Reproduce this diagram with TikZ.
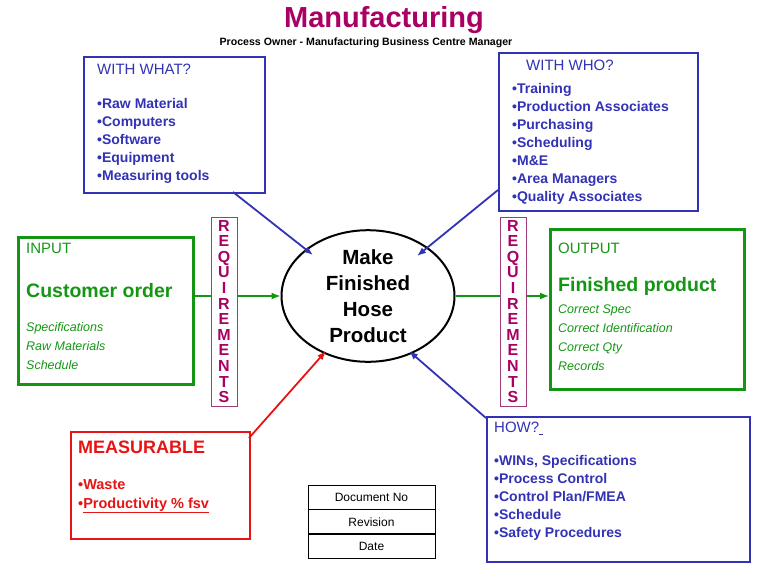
\documentclass[tikz,border=0pt]{standalone}
\usepackage{fontspec}
\setmainfont{Liberation Sans}
\usetikzlibrary{arrows.meta,positioning,shapes.geometric}
\definecolor{ttl}{RGB}{170,0,100}
\definecolor{blu}{RGB}{50,50,180}
\definecolor{grn}{RGB}{20,150,20}
\definecolor{rd}{RGB}{230,20,20}
\definecolor{req}{RGB}{160,60,120}
\tikzset{
  box/.style={draw,line width=2pt,inner sep=0pt,anchor=north west},
  lst/.style={anchor=north west,align=left,inner sep=0pt,font=\bfseries\fontsize{14}{18}\selectfont},
  hdr/.style={anchor=north west,inner sep=0pt,font=\fontsize{15}{17}\selectfont},
  reqbox/.style={draw=req,line width=1pt,fill=white,minimum width=26pt,minimum height=189pt,inner sep=0pt,
    text=ttl,font=\bfseries\fontsize{16}{15.6}\selectfont,align=center},
  cell/.style={draw,line width=0.8pt,minimum width=127pt,minimum height=24pt,inner sep=0pt,font=\fontsize{12}{13}\selectfont},
}
\begin{document}
\begin{tikzpicture}[x=1pt,y=-1pt,>={Latex[length=9pt,width=7pt]}]
\useasboundingbox (0,0) rectangle (768,576);
% title
\node[text=ttl,font=\bfseries\fontsize{29}{32}\selectfont] (title) at (384,20) {Manufacturing};
\node[font=\bfseries\fontsize{10.6}{12}\selectfont] (owner) at (366,43) {Process Owner - Manufacturing Business Centre Manager};
% centre
\node[draw,ellipse,line width=2pt,minimum width=173pt,minimum height=115pt,inner sep=0pt,align=center,
  font=\bfseries\fontsize{20.5}{26}\selectfont] (make) at (368,296) {Make\\Finished\\Hose\\Product};
% boxes
\node[box,draw=blu,minimum width=181pt,minimum height=136pt] (what) at (83,56) {};
\node[hdr,text=blu] at (97,64) {WITH WHAT?};
\node[lst,text=blu] at (97,98) {•Raw Material\\•Computers\\•Software\\•Equipment\\•Measuring tools};
\node[box,draw=blu,minimum width=199pt,minimum height=158pt] (who) at (498,52) {};
\node[hdr,text=blu] at (526,60) {WITH WHO?};
\node[lst,text=blu] at (512,83) {•Training\\•Production Associates\\•Purchasing\\•Scheduling\\•M\&E\\•Area Managers\\•Quality Associates};
\node[box,draw=grn,line width=3pt,minimum width=175pt,minimum height=147pt] (input) at (17,236) {};
\node[hdr,text=grn] at (26,243) {INPUT};
\node[lst,text=grn,font=\bfseries\fontsize{19.5}{22}\selectfont] at (26,283) {Customer order};
\node[lst,text=grn,font=\itshape\fontsize{12.5}{19}\selectfont] at (26,322) {Specifications\\Raw Materials\\Schedule};
\node[box,draw=grn,line width=3pt,minimum width=194pt,minimum height=160pt] (output) at (549,228) {};
\node[hdr,text=grn] at (558,243) {OUTPUT};
\node[lst,text=grn,font=\bfseries\fontsize{19.5}{22}\selectfont] at (558,277) {Finished product};
\node[lst,text=grn,font=\itshape\fontsize{12.5}{19}\selectfont] at (558,305) {Correct Spec\\Correct Identification\\Correct Qty\\Records};
\node[box,draw=rd,minimum width=179pt,minimum height=107pt] (meas) at (70,431) {};
\node[lst,text=rd,font=\bfseries\fontsize{18}{20}\selectfont] at (78,441) {MEASURABLE};
\node[lst,text=rd,font=\bfseries\fontsize{14.5}{19}\selectfont] at (78,479) {•Waste\\•\underline{Productivity \% fsv}};
\node[box,draw=blu,minimum width=263pt,minimum height=145pt] (how) at (486,416) {};
\node[hdr,text=blu] at (494,422) {HOW?\underline{\ }};
\node[lst,text=blu] at (494,455) {•WINs, Specifications\\•Process Control\\•Control Plan/FMEA\\•Schedule\\•Safety Procedures};
% requirements
\node[reqbox] (reqL) at (224,311.5) {R\\E\\Q\\U\\I\\R\\E\\M\\E\\N\\T\\S};
\node[reqbox] (reqR) at (513,311.5) {R\\E\\Q\\U\\I\\R\\E\\M\\E\\N\\T\\S};
% document table
\node[cell] (docno) at (371.5,497) {Document No};
\node[cell,below=0pt of docno] (rev) {Revision};
\node[cell,below=0pt of rev] (date) {Date};
% arrow ends
\coordinate (whatEnd) at (233,192);
\coordinate (whoEnd) at (498,190);
\coordinate (measEnd) at (249,438);
\coordinate (howEnd) at (486,418);
\draw[->,blu,line width=1.8pt] (whatEnd) -- (313,255);
\draw[->,blu,line width=1.8pt] (whoEnd) -- (417,256);
\draw[->,rd,line width=1.8pt] (measEnd) -- (326,351);
\draw[->,blu,line width=1.8pt] (howEnd) -- (409,351);
\draw[grn,line width=1.3pt] (input.east |- make) -- (reqL.west |- make);
\draw[->,grn,line width=1.3pt] (reqL.east |- make) -- (make.west);
\draw[grn,line width=1.3pt] (make.east) -- (reqR.west |- make);
\draw[->,grn,line width=1.3pt] (reqR.east |- make) -- (output.west |- make);
\end{tikzpicture}
\end{document}
